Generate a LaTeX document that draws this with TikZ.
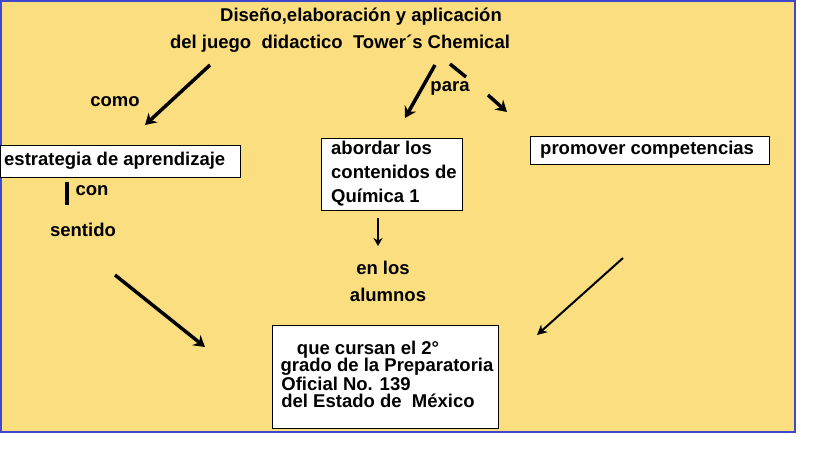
\documentclass[tikz,border=0pt]{standalone}
\usepackage{fontspec}
\setmainfont{Liberation Sans}
\usetikzlibrary{arrows.meta}
\definecolor{bgy}{HTML}{FADE80}
\definecolor{bord}{HTML}{3F48CC}
\begin{document}
\begin{tikzpicture}[x=1pt,y=-1pt,
  txt/.style={font=\bfseries\fontsize{18.5}{22}\selectfont,inner sep=0pt,anchor=center},
  wbox/.style={draw=black,fill=white,line width=0.8pt},
  arr/.style={line width=3.5pt,-{Stealth[length=11pt,width=13pt]}}]
\useasboundingbox (0,0) rectangle (819,460);
\fill[white] (0,0) rectangle (819,460);
\draw[fill=bgy,draw=bord,line width=2pt] (1,1) rectangle (795,432);
\node[txt] (t1) at (361,17) {Diseño,elaboración y aplicación};
\node[txt] (t2) at (340,44) {del juego\ \ didactico\ \ Tower´s Chemical};
\coordinate (a1s) at (210,65); \coordinate (a1e) at (145,125);
\draw[arr] (a1s) -- (a1e);
\node[txt] (como) at (115,102) {como};
\draw[wbox] (0,145) rectangle (240,177);
\node[txt,anchor=west] (estr) at (4,161) {estrategia de aprendizaje};
\draw[line width=4pt] (67,182) -- (67,205);
\node[txt] (con) at (92,191) {con};
\node[txt] (sent) at (83,230) {sentido};
\coordinate (a2s) at (115,275); \coordinate (a2e) at (205,347);
\draw[arr] (a2s) -- (a2e);
\coordinate (a3s) at (435,65); \coordinate (a3e) at (405,118);
\draw[arr] (a3s) -- (a3e);
\coordinate (a4s) at (450,64); \coordinate (a4e) at (507,112);
\draw[line width=3.5pt] (a4s) -- (466,77);
\draw[arr] (488,95) -- (a4e);
\node[txt] (para) at (450,88) {para};
\draw[wbox] (321,138) rectangle (462,210);
\node[txt,anchor=north west,align=left,font=\bfseries\fontsize{18.5}{24}\selectfont] (abor) at (331,141) {abordar los\\contenidos de\\Química 1};
\draw[wbox] (530,136) rectangle (769,164);
\node[txt,anchor=west] (prom) at (540,150) {promover competencias};
\coordinate (a5s) at (378,218); \coordinate (a5e) at (378,246);
\draw[line width=2pt,-{Stealth[length=8pt,width=9pt]}] (a5s) -- (a5e);
\node[txt] (enlos) at (383,268) {en los};
\node[txt] (alum) at (388,295) {alumnos};
\coordinate (a6s) at (623,258); \coordinate (a6e) at (537,335);
\draw[line width=2pt,-{Stealth[length=10pt,width=10pt]}] (a6s) -- (a6e);
\draw[wbox] (272,325) rectangle (498,428);
\node[txt] (q1) at (368,350) {que cursan el 2°};
\node[txt] (q2) at (387,367) {grado de la Preparatoria};
\node[txt] (q3) at (346,384) {Oficial No. 139};
\node[txt] (q4) at (378,401) {del Estado de\ \ México};
\end{tikzpicture}
\end{document}
